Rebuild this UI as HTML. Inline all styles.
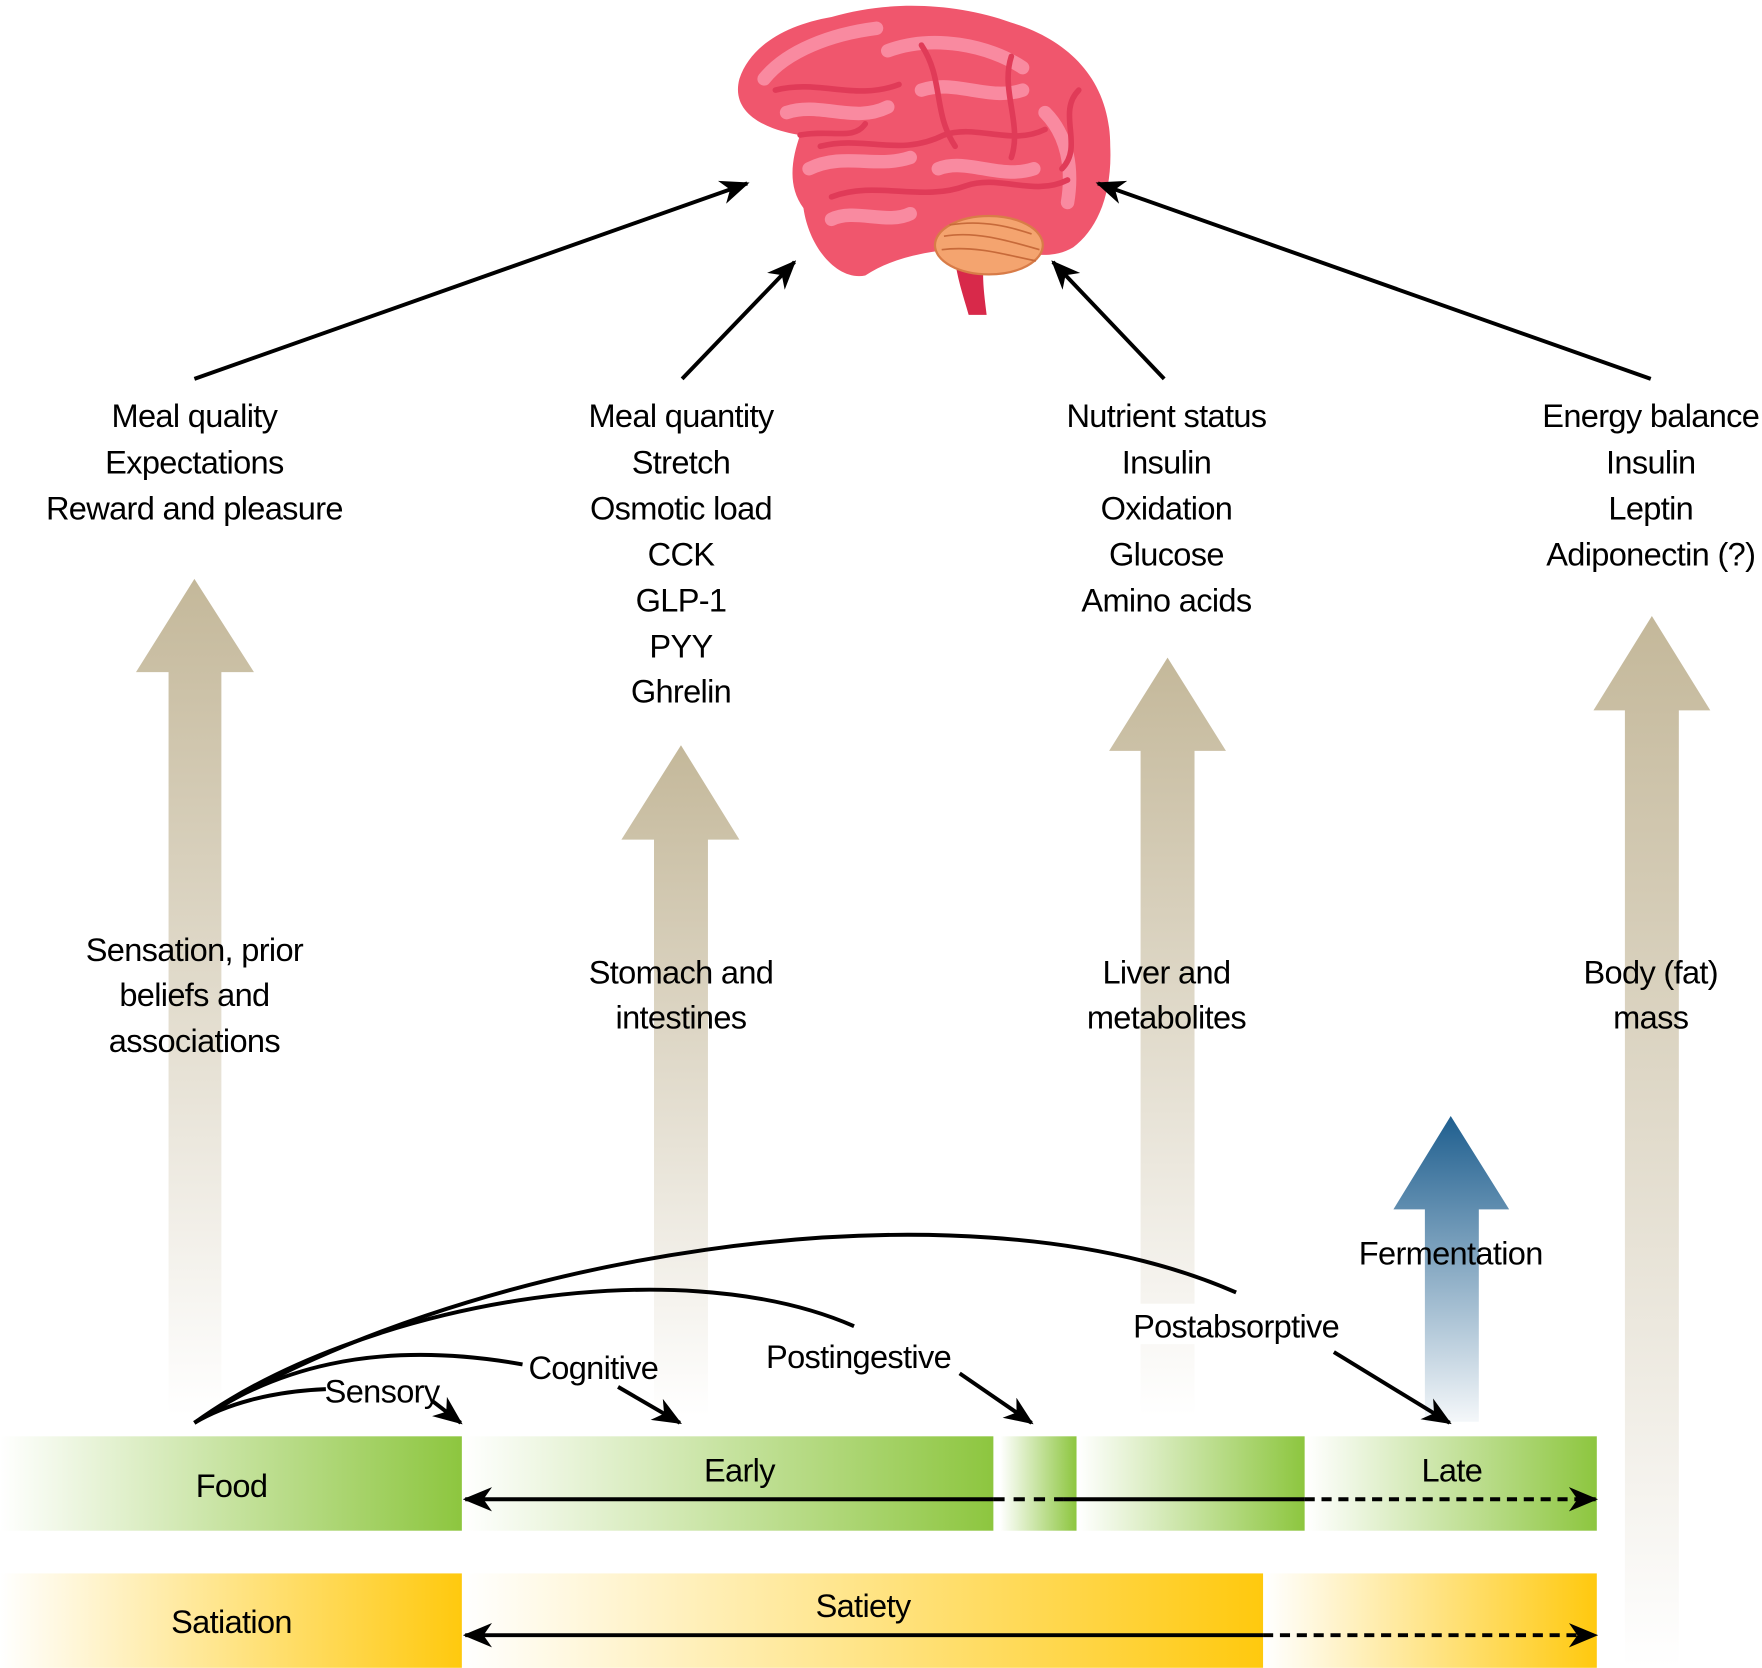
<!DOCTYPE html>
<html><head><meta charset="utf-8"><style>
html,body{margin:0;padding:0;background:#fff;}
svg{display:block;}
text{font-family:"Liberation Sans Narrow","Liberation Sans",sans-serif;font-size:29px;letter-spacing:-0.6px;fill:#000;text-anchor:middle;}
</style></head><body>
<svg width="1762" height="1668" viewBox="0 0 1568 1484" xmlns="http://www.w3.org/2000/svg">
<defs>
<linearGradient id="bg" x1="0" y1="1" x2="0" y2="0"><stop offset="0" stop-color="#c4b89a" stop-opacity="0"/><stop offset="0.25" stop-color="#c4b89a" stop-opacity="0.25"/><stop offset="1" stop-color="#c4b89a"/></linearGradient>
<linearGradient id="blu" x1="0" y1="1" x2="0" y2="0"><stop offset="0" stop-color="#1f5f8f" stop-opacity="0.05"/><stop offset="1" stop-color="#1f5f8f"/></linearGradient>
<linearGradient id="gr" x1="0" y1="0" x2="1" y2="0"><stop offset="0" stop-color="#8dc63f" stop-opacity="0"/><stop offset="1" stop-color="#8dc63f"/></linearGradient>
<linearGradient id="ye" x1="0" y1="0" x2="1" y2="0"><stop offset="0" stop-color="#ffc90e" stop-opacity="0"/><stop offset="1" stop-color="#ffc90e"/></linearGradient>
<marker id="ah" viewBox="0 0 12 10" refX="11" refY="5" markerWidth="26" markerHeight="21.7" orient="auto-start-reverse" markerUnits="userSpaceOnUse"><path d="M0,0 L12,5 L0,10 L3.5,5 z" fill="#000"/></marker>
</defs>

<path d="M150,1260 V598 H121 L173,515 L226,598 H197 V1260 Z" fill="url(#bg)"/>
<path d="M582,1260 V747 H553 L606,663 L658,747 H630 V1260 Z" fill="url(#bg)"/>
<path d="M1015,1260 V668 H987 L1039,585 L1091,668 H1063 V1260 Z" fill="url(#bg)"/>
<path d="M1446,1484 V632 H1418 L1470,548 L1522,632 H1494 V1484 Z" fill="url(#bg)"/>
<path d="M1268,1265 V1076 H1240 L1291,993 L1343,1076 H1316 V1265 Z" fill="url(#blu)"/>

<g>
<path d="M850,195 C845,230 855,255 862,280 L878,280 C875,255 872,235 880,215 Z" fill="#d8294a"/>
<path d="M715,185 C700,165 705,140 712,120 C680,115 650,100 658,70 C668,40 700,22 740,15 C790,0 850,2 900,20 C950,35 988,70 988,130 C990,175 975,205 955,220 C930,235 900,220 870,220 C840,222 800,225 770,245 C745,250 720,220 715,185 Z" fill="#f0566d"/>
<path d="M680,70 C700,45 740,30 780,25 M790,45 C830,30 880,40 910,60 M700,100 C730,90 760,110 790,95 M720,150 C750,135 780,150 810,140 M820,80 C850,70 880,90 910,80 M835,150 C860,140 890,160 920,150 M930,100 C950,120 955,150 950,180 M740,195 C760,185 790,200 810,190" fill="none" stroke="#f98aa0" stroke-width="12" stroke-linecap="round"/>
<path d="M690,80 C730,70 760,90 800,75 M730,130 C770,120 800,140 840,120 C870,110 900,130 930,115 M740,175 C780,160 820,180 860,165 C890,155 920,175 950,160 M820,40 C840,70 830,100 850,130 M900,50 C890,80 910,110 900,140 M712,120 C740,115 760,125 770,110 M960,80 C940,100 965,130 945,150" fill="none" stroke="#e03b58" stroke-width="5" stroke-linecap="round"/>
<ellipse cx="880" cy="218" rx="48" ry="26" fill="#f4a46f" stroke="#d87c48" stroke-width="2"/>
<path d="M840,210 C870,205 900,215 925,222 M838,222 C870,218 900,228 922,232 M845,200 C875,195 900,202 918,208" stroke="#c76a3a" stroke-width="1.5" fill="none"/>
</g>

<g stroke="#000" stroke-width="3.5" fill="none" marker-end="url(#ah)">
<line x1="173" y1="337" x2="665" y2="163"/>
<line x1="607" y1="337" x2="707" y2="233"/>
<line x1="1036" y1="337" x2="937" y2="233"/>
<line x1="1469" y1="337" x2="977" y2="163"/>
</g>

<text x="173" y="380">Meal quality</text>
<text x="173" y="421">Expectations</text>
<text x="173" y="462">Reward and pleasure</text>
<text x="606" y="380">Meal quantity</text>
<text x="606" y="421">Stretch</text>
<text x="606" y="462">Osmotic load</text>
<text x="606" y="503">CCK</text>
<text x="606" y="544">GLP-1</text>
<text x="606" y="585">PYY</text>
<text x="606" y="625">Ghrelin</text>
<text x="1038" y="380">Nutrient status</text>
<text x="1038" y="421">Insulin</text>
<text x="1038" y="462">Oxidation</text>
<text x="1038" y="503">Glucose</text>
<text x="1038" y="544">Amino acids</text>
<text x="1469" y="380">Energy balance</text>
<text x="1469" y="421">Insulin</text>
<text x="1469" y="462">Leptin</text>
<text x="1469" y="503">Adiponectin (?)</text>

<text x="173" y="855">Sensation, prior</text>
<text x="173" y="895">beliefs and</text>
<text x="173" y="936">associations</text>
<text x="606" y="875">Stomach and</text>
<text x="606" y="915">intestines</text>
<text x="1038" y="875">Liver and</text>
<text x="1038" y="915">metabolites</text>
<text x="1469" y="875">Body (fat)</text>
<text x="1469" y="915">mass</text>
<text x="1291" y="1125">Fermentation</text>

<rect x="0" y="1278" width="411" height="84" fill="url(#gr)"/>
<rect x="413" y="1278" width="471" height="84" fill="url(#gr)"/>
<rect x="890" y="1278" width="68" height="84" fill="url(#gr)"/>
<rect x="960" y="1278" width="201" height="84" fill="url(#gr)"/>
<rect x="1163" y="1278" width="258" height="84" fill="url(#gr)"/>
<rect x="0" y="1400" width="411" height="84" fill="url(#ye)"/>
<rect x="413" y="1400" width="711" height="84" fill="url(#ye)"/>
<rect x="1126" y="1400" width="295" height="84" fill="url(#ye)"/>

<text x="206" y="1332">Food</text>
<text x="658" y="1318">Early</text>
<text x="1292" y="1318">Late</text>
<text x="206" y="1453">Satiation</text>
<text x="768" y="1439">Satiety</text>

<g stroke="#000" stroke-width="3.5" fill="none">
<line x1="414" y1="1334" x2="884" y2="1334" marker-start="url(#ah)"/>
<line x1="884" y1="1334" x2="946" y2="1334" stroke-dasharray="10,8"/>
<line x1="946" y1="1334" x2="1161" y2="1334"/>
<line x1="1161" y1="1334" x2="1420" y2="1334" stroke-dasharray="9,6" marker-end="url(#ah)"/>
<line x1="414" y1="1455" x2="1124" y2="1455" marker-start="url(#ah)"/>
<line x1="1124" y1="1455" x2="1420" y2="1455" stroke-dasharray="9,6" marker-end="url(#ah)"/>
</g>

<g stroke="#000" stroke-width="3.5" fill="none">
<path d="M173,1266 C200,1250 240,1238 290,1236"/>
<path d="M384,1246 L410,1266" marker-end="url(#ah)"/>
<path d="M173,1266 C240,1220 330,1190 465,1214"/>
<path d="M550,1234 L605,1266" marker-end="url(#ah)"/>
<path d="M173,1266 C320,1160 600,1110 760,1180"/>
<path d="M854,1222 L918,1266" marker-end="url(#ah)"/>
<path d="M173,1266 C400,1120 850,1040 1100,1150"/>
<path d="M1187,1203 L1290,1266" marker-end="url(#ah)"/>
</g>
<text x="340" y="1248">Sensory</text>
<text x="528" y="1227">Cognitive</text>
<text x="764" y="1217">Postingestive</text>
<rect x="1004" y="1160" width="192" height="36" fill="#fff"/>
<text x="1100" y="1190">Postabsorptive</text>
</svg>
</body></html>
